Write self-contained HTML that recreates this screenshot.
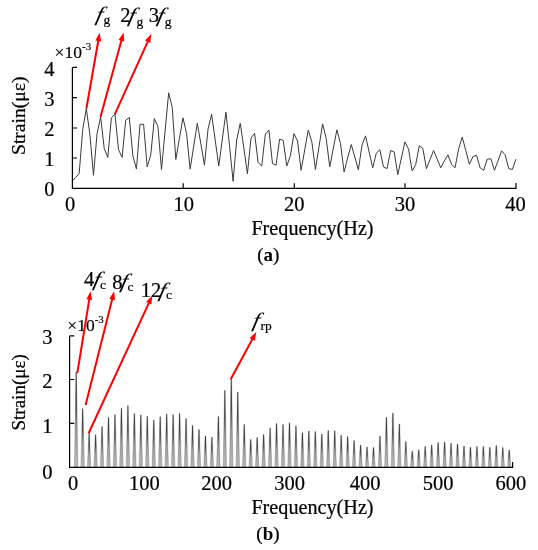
<!DOCTYPE html>
<html><head><meta charset="utf-8"><style>
html,body{margin:0;padding:0;background:#fff;}
svg{display:block;filter:blur(0.3px);}
.t{font-family:"Liberation Serif","Times New Roman",serif;font-size:20.5px;fill:#000;stroke:#000;stroke-width:0.22px;}
.s{font-family:"Liberation Serif","Times New Roman",serif;font-size:17.5px;fill:#000;stroke:#000;stroke-width:0.18px;}
</style></head><body>
<svg width="538" height="550" viewBox="0 0 538 550">
<defs><linearGradient id="sg" x1="0" y1="0" x2="0" y2="1"><stop offset="0" stop-color="#1a1a1a"/><stop offset="0.35" stop-color="#4a4a4a"/><stop offset="0.6" stop-color="#9a9a9a"/><stop offset="1" stop-color="#b8b8b8"/></linearGradient></defs>
<polyline points="72,181.3 75.58,177.5 79.16,173.6 82.74,129.5 86.32,108.5 89.9,134.7 93.48,175.3 97.06,133.8 100.64,117 104.22,148.5 107.8,157.5 111.38,117.8 114.96,114.3 118.54,149.7 122.12,157.4 125.7,120.3 129.28,117.4 132.86,155.7 136.44,169.1 140.02,124.3 143.6,124.3 147.18,166.9 150.76,154.8 154.34,118.6 157.92,126.4 161.5,169.5 165.08,131 168.66,92.8 172.24,107.4 175.82,159.5 179.4,138.5 182.98,117.8 186.56,133.3 190.14,169.1 193.72,146 197.3,123.3 200.88,144 204.46,165.2 208.04,129 211.62,114.3 215.2,140 218.78,166 222.36,139 225.94,112.2 229.52,145.6 233.1,181.3 236.68,140 240.26,123.3 243.84,148 247.42,173.8 251,138.1 254.58,133.3 258.16,162.6 261.74,166 265.32,134.2 268.9,130.2 272.48,163.4 276.06,165.2 279.64,139 283.22,140.5 286.8,166 290.38,155.7 293.96,133.6 297.54,141 301.12,170.3 304.7,150 308.28,130.2 311.86,141.9 315.44,169.5 319.02,146.7 322.6,123.8 326.18,138.4 329.76,166.9 333.34,148 336.92,129.8 340.5,143.6 344.08,172 347.66,158 351.24,144.5 354.82,157 358.4,169.8 361.98,145.3 365.56,135.9 369.14,152 372.72,167.8 376.3,153.1 379.88,149.7 383.46,166.9 387.04,168.6 390.62,150.5 394.2,151.9 397.78,174.7 401.36,158 404.94,141.9 408.52,149.1 412.1,170.9 415.68,164.7 419.26,145.7 422.84,148.4 426.42,168.6 430,159.5 433.58,150.5 437.16,159 440.74,167.8 444.32,161 447.9,154.8 451.48,164.3 455.06,167.8 458.64,148.8 462.22,137.1 465.8,150.5 469.38,164.3 472.96,156.6 476.54,155.3 480.12,167.8 483.7,170.3 487.28,159.1 490.86,158.8 494.44,170.3 498.02,160.9 501.6,150.9 505.18,154.8 508.76,168.6 512.34,169.5 515.92,159.1" fill="none" stroke="#3a3a3a" stroke-width="1" stroke-linejoin="miter"/>
<path d="M72.4,67.4 H77 M72.4,67.4 V188.4 H516 V183" fill="none" stroke="#000" stroke-width="1.2"/>
<path d="M72.4,97.6 H77.0 M72.4,128 H77.0 M72.4,158 H77.0 M183.2,188.4 V183.20000000000002 M294.3,188.4 V183.20000000000002 M405,188.4 V183.20000000000002" stroke="#000" stroke-width="1.2"/>
<text x="54.5" y="75.6" text-anchor="end" class="t">4</text>
<text x="54.5" y="105.5" text-anchor="end" class="t">3</text>
<text x="54.5" y="136" text-anchor="end" class="t">2</text>
<text x="54.5" y="166" text-anchor="end" class="t">1</text>
<text x="54.5" y="196" text-anchor="end" class="t">0</text>
<text x="70" y="211.3" text-anchor="middle" class="t">0</text>
<text x="183.7" y="211.3" text-anchor="middle" class="t">10</text>
<text x="294.3" y="211.3" text-anchor="middle" class="t">20</text>
<text x="405" y="211.3" text-anchor="middle" class="t">30</text>
<text x="515.5" y="211.3" text-anchor="middle" class="t">40</text>
<text x="251.4" y="235.2" class="t" style="font-size:20.2px">Frequency(Hz)</text>
<text x="257.2" y="261.2" class="t" style="font-size:19px">(<tspan font-weight="bold" style="stroke-width:0">a</tspan>)</text>
<text transform="translate(25.3,155) rotate(-90)" class="t" style="font-size:19.6px">Strain(με)</text>
<text x="54.6" y="58.3" class="s">×10<tspan dy="-7.9" font-size="11">-3</tspan></text>
<g fill="url(#sg)" stroke="#666" stroke-width="0.3"><polygon points="75.8,372 76.6,372 77.2,419.5 78,467 74.4,467 75.2,419.5"/><polygon points="82.26,408.7 83.06,408.7 83.66,437.85 84.46,467 80.86,467 81.66,437.85"/><polygon points="88.73,433.7 89.53,433.7 90.13,450.35 90.93,467 87.33,467 88.13,450.35"/><polygon points="95.19,434.8 95.99,434.8 96.59,450.9 97.39,467 93.79,467 94.59,450.9"/><polygon points="101.65,426.6 102.45,426.6 103.05,446.8 103.85,467 100.25,467 101.05,446.8"/><polygon points="108.11,417.6 108.92,417.6 109.52,442.3 110.31,467 106.72,467 107.52,442.3"/><polygon points="114.58,414.7 115.38,414.7 115.98,440.85 116.78,467 113.18,467 113.98,440.85"/><polygon points="121.04,408.2 121.84,408.2 122.44,437.6 123.24,467 119.64,467 120.44,437.6"/><polygon points="127.5,405.7 128.3,405.7 128.9,436.35 129.7,467 126.1,467 126.9,436.35"/><polygon points="133.97,413.6 134.77,413.6 135.37,440.3 136.17,467 132.57,467 133.37,440.3"/><polygon points="140.43,414.9 141.23,414.9 141.83,440.95 142.63,467 139.03,467 139.83,440.95"/><polygon points="146.89,416.3 147.69,416.3 148.29,441.65 149.09,467 145.49,467 146.29,441.65"/><polygon points="153.36,420.1 154.16,420.1 154.76,443.55 155.56,467 151.96,467 152.76,443.55"/><polygon points="159.82,416.8 160.62,416.8 161.22,441.9 162.02,467 158.42,467 159.22,441.9"/><polygon points="166.28,413.9 167.08,413.9 167.68,440.45 168.48,467 164.88,467 165.68,440.45"/><polygon points="172.75,414.7 173.55,414.7 174.15,440.85 174.95,467 171.34,467 172.15,440.85"/><polygon points="179.21,413.6 180.01,413.6 180.61,440.3 181.41,467 177.81,467 178.61,440.3"/><polygon points="185.67,418.5 186.47,418.5 187.07,442.75 187.87,467 184.27,467 185.07,442.75"/><polygon points="192.13,425.5 192.93,425.5 193.53,446.25 194.33,467 190.73,467 191.53,446.25"/><polygon points="198.6,429.4 199.4,429.4 200,448.2 200.8,467 197.2,467 198,448.2"/><polygon points="205.06,436.1 205.86,436.1 206.46,451.55 207.26,467 203.66,467 204.46,451.55"/><polygon points="211.52,437 212.32,437 212.92,452 213.72,467 210.12,467 210.92,452"/><polygon points="217.99,416.4 218.79,416.4 219.39,441.7 220.19,467 216.59,467 217.39,441.7"/><polygon points="224.45,390.4 225.25,390.4 225.85,428.7 226.65,467 223.05,467 223.85,428.7"/><polygon points="230.91,379.4 231.71,379.4 232.31,423.2 233.11,467 229.51,467 230.31,423.2"/><polygon points="237.37,392 238.17,392 238.77,429.5 239.57,467 235.97,467 236.77,429.5"/><polygon points="243.84,424.4 244.64,424.4 245.24,445.7 246.04,467 242.44,467 243.24,445.7"/><polygon points="250.3,439.6 251.1,439.6 251.7,453.3 252.5,467 248.9,467 249.7,453.3"/><polygon points="256.76,437.6 257.56,437.6 258.16,452.3 258.96,467 255.36,467 256.16,452.3"/><polygon points="263.23,434.4 264.03,434.4 264.63,450.7 265.43,467 261.83,467 262.63,450.7"/><polygon points="269.69,428 270.49,428 271.09,447.5 271.89,467 268.29,467 269.09,447.5"/><polygon points="276.15,423.6 276.95,423.6 277.55,445.3 278.35,467 274.75,467 275.55,445.3"/><polygon points="282.62,424.5 283.42,424.5 284.02,445.75 284.82,467 281.22,467 282.02,445.75"/><polygon points="289.08,422.8 289.88,422.8 290.48,444.9 291.28,467 287.68,467 288.48,444.9"/><polygon points="295.54,425.8 296.34,425.8 296.94,446.4 297.74,467 294.14,467 294.94,446.4"/><polygon points="302.01,432.7 302.81,432.7 303.41,449.85 304.21,467 300.61,467 301.41,449.85"/><polygon points="308.47,431.1 309.27,431.1 309.87,449.05 310.67,467 307.07,467 307.87,449.05"/><polygon points="314.93,431.6 315.73,431.6 316.33,449.3 317.13,467 313.53,467 314.33,449.3"/><polygon points="321.39,434 322.19,434 322.79,450.5 323.59,467 319.99,467 320.79,450.5"/><polygon points="327.86,430.4 328.66,430.4 329.26,448.7 330.06,467 326.46,467 327.26,448.7"/><polygon points="334.32,430.7 335.12,430.7 335.72,448.85 336.52,467 332.92,467 333.72,448.85"/><polygon points="340.78,435.3 341.58,435.3 342.18,451.15 342.98,467 339.38,467 340.18,451.15"/><polygon points="347.25,436.5 348.05,436.5 348.65,451.75 349.45,467 345.85,467 346.65,451.75"/><polygon points="353.71,440.6 354.51,440.6 355.11,453.8 355.91,467 352.31,467 353.11,453.8"/><polygon points="360.17,445.1 360.97,445.1 361.57,456.05 362.37,467 358.77,467 359.57,456.05"/><polygon points="366.63,447.1 367.43,447.1 368.03,457.05 368.83,467 365.23,467 366.03,457.05"/><polygon points="373.1,447.6 373.9,447.6 374.5,457.3 375.3,467 371.7,467 372.5,457.3"/><polygon points="379.56,436 380.36,436 380.96,451.5 381.76,467 378.16,467 378.96,451.5"/><polygon points="386.02,417.3 386.82,417.3 387.42,442.15 388.22,467 384.62,467 385.42,442.15"/><polygon points="392.49,413.1 393.29,413.1 393.89,440.05 394.69,467 391.09,467 391.89,440.05"/><polygon points="398.95,423.9 399.75,423.9 400.35,445.45 401.15,467 397.55,467 398.35,445.45"/><polygon points="405.41,441.4 406.21,441.4 406.81,454.2 407.61,467 404.01,467 404.81,454.2"/><polygon points="411.88,451.2 412.68,451.2 413.28,459.1 414.08,467 410.48,467 411.28,459.1"/><polygon points="418.34,449.7 419.14,449.7 419.74,458.35 420.54,467 416.94,467 417.74,458.35"/><polygon points="424.8,446.4 425.6,446.4 426.2,456.7 427,467 423.4,467 424.2,456.7"/><polygon points="431.27,445.1 432.06,445.1 432.67,456.05 433.47,467 429.87,467 430.67,456.05"/><polygon points="437.73,442.6 438.53,442.6 439.13,454.8 439.93,467 436.33,467 437.13,454.8"/><polygon points="444.19,441.9 444.99,441.9 445.59,454.45 446.39,467 442.79,467 443.59,454.45"/><polygon points="450.65,443.2 451.45,443.2 452.05,455.1 452.85,467 449.25,467 450.05,455.1"/><polygon points="457.12,444.1 457.92,444.1 458.52,455.55 459.32,467 455.72,467 456.52,455.55"/><polygon points="463.58,446 464.38,446 464.98,456.5 465.78,467 462.18,467 462.98,456.5"/><polygon points="470.04,447.3 470.84,447.3 471.44,457.15 472.24,467 468.64,467 469.44,457.15"/><polygon points="476.51,446.4 477.31,446.4 477.91,456.7 478.71,467 475.11,467 475.91,456.7"/><polygon points="482.97,446.5 483.77,446.5 484.37,456.75 485.17,467 481.57,467 482.37,456.75"/><polygon points="489.43,447.3 490.23,447.3 490.83,457.15 491.63,467 488.03,467 488.83,457.15"/><polygon points="495.9,445.4 496.69,445.4 497.3,456.2 498.1,467 494.5,467 495.3,456.2"/><polygon points="502.36,447.5 503.16,447.5 503.76,457.25 504.56,467 500.96,467 501.76,457.25"/><polygon points="508.82,450.1 509.62,450.1 510.22,458.55 511.02,467 507.42,467 508.22,458.55"/></g>
<path d="M69.6,335.8 H74.3 M69.6,335.8 V467.3 H512.6 V462" fill="none" stroke="#000" stroke-width="1.2"/>
<path d="M69.6,379.5 H74.3 M69.6,423.3 H74.3" stroke="#000" stroke-width="1.2"/>
<text x="52.6" y="344.3" text-anchor="end" class="t">3</text>
<text x="52.6" y="388" text-anchor="end" class="t">2</text>
<text x="52.6" y="433" text-anchor="end" class="t">1</text>
<text x="52.6" y="478.5" text-anchor="end" class="t">0</text>
<text x="73" y="489.6" text-anchor="middle" class="t">0</text>
<text x="144.3" y="489.6" text-anchor="middle" class="t">100</text>
<text x="216.5" y="489.6" text-anchor="middle" class="t">200</text>
<text x="289.7" y="489.6" text-anchor="middle" class="t">300</text>
<text x="365.2" y="489.6" text-anchor="middle" class="t">400</text>
<text x="438" y="489.6" text-anchor="middle" class="t">500</text>
<text x="510.8" y="489.6" text-anchor="middle" class="t">600</text>
<text x="251.4" y="514.0" class="t" style="font-size:20.2px">Frequency(Hz)</text>
<text x="256.3" y="539.8" class="t" style="font-size:19px">(<tspan font-weight="bold" style="stroke-width:0">b</tspan>)</text>
<text transform="translate(24.5,430.5) rotate(-90)" class="t" style="font-size:19px">Strain(με)</text>
<text x="67.3" y="330.8" class="s">×10<tspan dy="-7.9" font-size="11">-3</tspan></text>
<line x1="86.4" y1="108.5" x2="98.41" y2="39.99" stroke="#ff0000" stroke-width="2"/><polygon points="99.7,32.6 101.09,41.47 95.38,40.47" fill="#ff0000"/>
<line x1="100.5" y1="117" x2="121.62" y2="39.83" stroke="#ff0000" stroke-width="2"/><polygon points="123.6,32.6 124.15,41.56 118.56,40.03" fill="#ff0000"/>
<line x1="114.8" y1="114.3" x2="148.1" y2="40.83" stroke="#ff0000" stroke-width="2"/><polygon points="151.2,34 150.33,42.94 145.05,40.54" fill="#ff0000"/>
<line x1="77.3" y1="373.1" x2="89.4" y2="298.6" stroke="#ff0000" stroke-width="2"/><polygon points="90.6,291.2 92.1,300.05 86.38,299.13" fill="#ff0000"/>
<line x1="85.6" y1="405" x2="112.37" y2="298.47" stroke="#ff0000" stroke-width="2"/><polygon points="114.2,291.2 114.94,300.15 109.32,298.74" fill="#ff0000"/>
<line x1="88.5" y1="433.5" x2="149.15" y2="302.41" stroke="#ff0000" stroke-width="2"/><polygon points="152.3,295.6 151.36,304.53 146.1,302.1" fill="#ff0000"/>
<line x1="230.6" y1="379.4" x2="252.73" y2="338.5" stroke="#ff0000" stroke-width="2"/><polygon points="256.3,331.9 254.81,340.76 249.7,338" fill="#ff0000"/>
<text transform="translate(95,20.8) skewX(-12) scale(1.2,1)" class="t" font-style="italic" style="stroke-width:0">f</text>
<text x="103.6" y="23.7" class="t" style="font-size:13.5px">g</text>
<text x="120.2" y="22.3" class="t">2</text>
<text transform="translate(127.6,22.2) skewX(-12) scale(1.2,1)" class="t" font-style="italic" style="stroke-width:0">f</text>
<text x="136.5" y="25.5" class="t" style="font-size:13.5px">g</text>
<text x="148.8" y="22.2" class="t">3</text>
<text transform="translate(156.2,22.2) skewX(-12) scale(1.2,1)" class="t" font-style="italic" style="stroke-width:0">f</text>
<text x="164.8" y="25.8" class="t" style="font-size:13.5px">g</text>
<text x="84" y="286" class="t">4</text>
<text transform="translate(92.4,286.2) skewX(-12) scale(1.2,1)" class="t" font-style="italic" style="stroke-width:0">f</text>
<text x="99.9" y="289.4" class="t" style="font-size:13.5px">c</text>
<text x="112.3" y="288.8" class="t">8</text>
<text transform="translate(119.7,288.3) skewX(-12) scale(1.2,1)" class="t" font-style="italic" style="stroke-width:0">f</text>
<text x="127.4" y="291.2" class="t" style="font-size:13.5px">c</text>
<text x="140.7" y="296.8" class="t">12</text>
<text transform="translate(157.9,296.5) skewX(-12) scale(1.2,1)" class="t" font-style="italic" style="stroke-width:0">f</text>
<text x="166" y="299.3" class="t" style="font-size:13.5px">c</text>
<text transform="translate(251.8,326.6) skewX(-12) scale(1.2,1)" class="t" font-style="italic" style="stroke-width:0">f</text>
<text x="260.6" y="329.9" class="t" style="font-size:13.5px">rp</text>
</svg>
</body></html>
